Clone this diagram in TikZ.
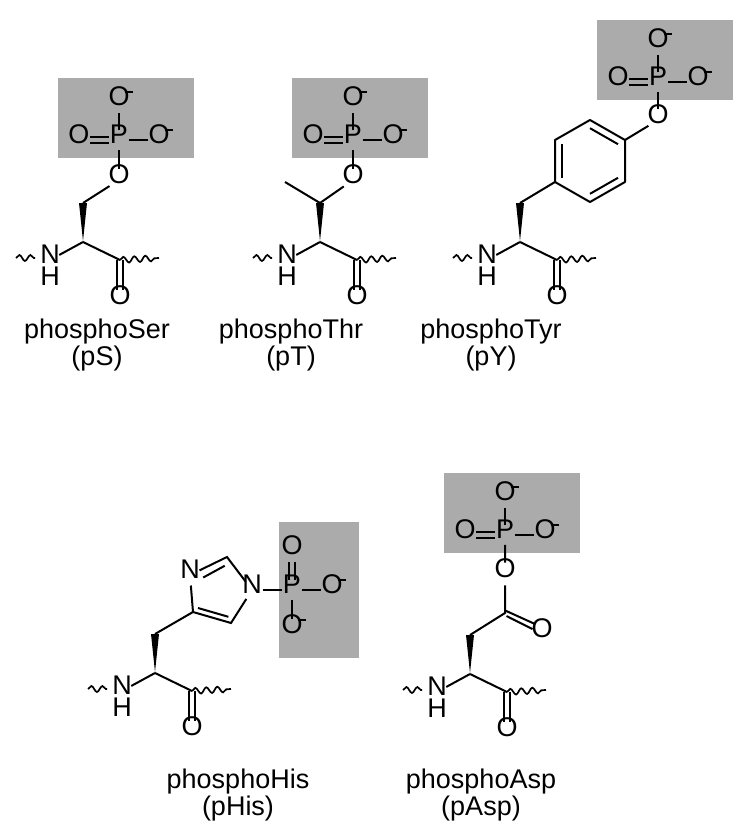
\documentclass[tikz,border=0pt]{standalone}
\usepackage{fontspec}
\setmainfont{Liberation Sans}
\usetikzlibrary{calc,decorations.pathmorphing}
\tikzset{
  atom/.style={circle,inner sep=0pt,font=\fontsize{27}{27}\selectfont,text height=0.72em,text depth=0pt},
  neg/.style={label={[anchor=center,inner sep=0pt,xshift=2.5pt,yshift=2pt]45:{\rule{8pt}{2.2pt}}}},
  bond/.style={line width=2pt},
  wavy/.style={line width=1.7pt,decorate,decoration={snake,segment length=11pt,amplitude=3pt}},
  pbox/.style={fill=black!33,draw=none},
  lbl/.style={font=\fontsize{27}{25}\selectfont,align=center,inner sep=0pt}
}
% backbone: prefix, x, y of C-alpha
\newcommand\aabb[3]{%
  \coordinate (#1ca) at (#2,#3);
  \coordinate (#1cb) at (#2,#3-39);
  \node[atom] (#1N) at (#2-33,#3+18) {N};
  \node[atom] (#1H) at (#2-33,#3+40) {H};
  \coordinate (#1cc) at (#2+37,#3+18);
  \node[atom] (#1O) at (#2+37,#3+59) {O};
  \coordinate (#1wl) at (#2-67,#3+16);
  \coordinate (#1wle) at (#2-48,#3+16);
  \coordinate (#1wr) at (#2+76,#3+16);
  \draw[bond] (#1ca) -- (#1N);
  \draw[bond] (#1ca) -- (#1cc);
  \draw[bond] ([xshift=-2.6pt]#1cc) -- ([xshift=-2.6pt]#1O.north);
  \draw[bond] ([xshift=2.6pt]#1cc) -- ([xshift=2.6pt]#1O.north);
  \draw[wavy] (#1wl) -- (#1wle);
  \draw[wavy] (#1cc) -- (#1wr);
  \fill ($(#1ca)+(0,-1)$) -- ($(#1cb)+(-4,0)$) -- ($(#1cb)+(4,0)$) -- cycle;
}
% phosphate with box: prefix, x, y of P
\newcommand\phosg[3]{%
  \fill[pbox] (#2-61,#3-62) rectangle (#2+75,#3+18);
  \node[atom] (#1P) at (#2,#3) {P};
  \node[atom,neg] (#1Ot) at (#2,#3-38) {O};
  \node[atom] (#1Ol) at (#2-40,#3) {O};
  \node[atom,neg] (#1Or) at (#2+40,#3) {O};
  \draw[bond] (#1P) -- (#1Ot);
  \draw[bond] (#1P) -- (#1Or);
  \draw[bond] ([yshift=2.6pt]#1Ol.east) -- ([yshift=2.6pt]#1P.west);
  \draw[bond] ([yshift=-2.6pt]#1Ol.east) -- ([yshift=-2.6pt]#1P.west);
}
\begin{document}
\begin{tikzpicture}[x=1pt,y=-1pt]
\useasboundingbox (0,0) rectangle (742,838);
% ---------- phosphoSer
\phosg{s}{119}{140}
\aabb{s}{83}{242}
\node[atom] (sOe) at (119,180) {O};
\draw[bond] (sOe) -- (sP);
\draw[bond] (scb) -- (sOe);
\node[lbl] (sl) at (97,345) {phosphoSer\\(pS)};
% ---------- phosphoThr
\phosg{t}{353}{140}
\aabb{t}{320}{242}
\node[atom] (tOe) at (353,180) {O};
\coordinate (tme) at (285,182);
\draw[bond] (tOe) -- (tP);
\draw[bond] (tcb) -- (tOe);
\draw[bond] (tcb) -- (tme);
\node[lbl] (tl) at (291,345) {phosphoThr\\(pT)};
% ---------- phosphoTyr
\phosg{y}{658}{82}
\aabb{y}{520}{242}
\node[atom] (yOe) at (658,120) {O};
\coordinate (r1) at (555,182);
\coordinate (r2) at (555,140);
\coordinate (r3) at (590,120);
\coordinate (r4) at (625,140);
\coordinate (r5) at (625,182);
\coordinate (r6) at (590,202);
\coordinate (rc) at (590,161);
\draw[bond,line join=round] (r1) -- (r2) -- (r3) -- (r4) -- (r5) -- (r6) -- cycle;
\draw[bond] ($(r1)!0.2!(rc)$) -- ($(r2)!0.2!(rc)$);
\draw[bond] ($(r3)!0.2!(rc)$) -- ($(r4)!0.2!(rc)$);
\draw[bond] ($(r5)!0.2!(rc)$) -- ($(r6)!0.2!(rc)$);
\draw[bond] (ycb) -- (r1);
\draw[bond] (r4) -- (yOe);
\draw[bond] (yOe) -- (yP);
\node[lbl] (yl) at (491,345) {phosphoTyr\\(pY)};
% ---------- phosphoHis
\fill[pbox] (279,522) rectangle (359,658);
\aabb{h}{155}{673}
\node[atom] (hP) at (292,590) {P};
\node[atom] (hOt) at (292,551) {O};
\node[atom,neg] (hOr) at (332,590) {O};
\node[atom,neg] (hOb) at (292,630) {O};
\node[atom] (hN1) at (252,590) {N};
\node[atom] (hN3) at (190,575) {N};
\coordinate (hc2) at (227,557);
\coordinate (hc4) at (193,612);
\coordinate (hc5) at (231,623);
\coordinate (hrc) at (218,592);
\draw[bond] (hN3) -- (hc2) -- (hN1) -- (hc5) -- (hc4) -- (hN3);
\draw[bond] ($(hN3.east)!0.15!(hrc)$) -- ($(hc2)!0.25!(hrc)$);
\draw[bond] ($(hc4)!0.2!(hrc)$) -- ($(hc5)!0.2!(hrc)$);
\draw[bond] (hcb) -- (hc4);
\draw[bond] (hN1) -- (hP);
\draw[bond] (hP) -- (hOr);
\draw[bond] (hP) -- (hOb);
\draw[bond] ([xshift=-2.6pt]hOt.south) -- ([xshift=-2.6pt]hP.north);
\draw[bond] ([xshift=2.6pt]hOt.south) -- ([xshift=2.6pt]hP.north);
\node[lbl] (hl) at (238,795) {phosphoHis\\(pHis)};
% ---------- phosphoAsp
\phosg{a}{505}{535}
\aabb{a}{470}{674}
\node[atom] (aOe) at (505,574) {O};
\coordinate (acc2) at (505,613);
\node[atom] (aOd) at (542,634) {O};
\draw[bond] (acb) -- (acc2) -- (aOe) -- (aP);
\draw[bond] ($(acc2)+(0,-2.6)$) -- ($(aOd.north west)+(1,-2)$);
\draw[bond] ($(acc2)+(1.5,3)$) -- ($(aOd.north west)+(-1.5,3)$);
\node[lbl] (al) at (481,795) {phosphoAsp\\(pAsp)};
\end{tikzpicture}
\end{document}
